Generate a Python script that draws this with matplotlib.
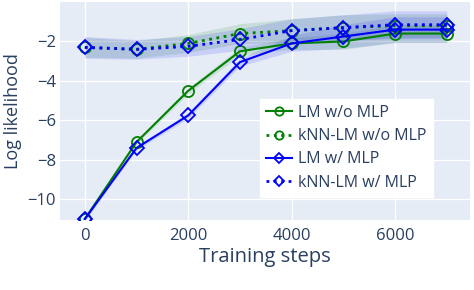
import numpy as np
import matplotlib.pyplot as plt

plt.rcParams['font.family'] = ['Open Sans', 'DejaVu Sans']

steps = [0, 1000, 2000, 3000, 4000, 5000, 6000, 7000]

lm_wo = [-11.0, -7.1, -4.5, -2.5, -2.1, -2.0, -1.6, -1.6]
knn_wo = [-2.3, -2.4, -2.1, -1.6, -1.45, -1.3, -1.2, -1.2]
lm_w = [-11.0, -7.4, -5.75, -3.05, -2.1, -1.75, -1.4, -1.4]
knn_w = [-2.3, -2.4, -2.25, -1.9, -1.45, -1.3, -1.15, -1.15]

# std bands
lm_wo_std = [0.1, 0.1, 0.15, 0.2, 0.3, 0.4, 0.45, 0.45]
knn_wo_std = [0.5, 0.45, 0.45, 0.5, 0.6, 0.65, 0.6, 0.6]
lm_w_std = [0.1, 0.1, 0.15, 0.2, 0.4, 0.6, 0.65, 0.65]
knn_w_std = [0.55, 0.5, 0.5, 0.55, 0.6, 0.65, 0.7, 0.7]

text_c = '#2a3f5f'
green = '#008000'
blue = '#0000ff'

fig = plt.figure(figsize=(4.74, 2.90), dpi=100)
ax = fig.add_axes([60 / 474, 1 - 220 / 290, 410 / 474, 218 / 290])
ax.set_facecolor('#E5ECF6')

series = [
    (lm_wo, lm_wo_std, green, '-', 'o', 'LM w/o MLP'),
    (knn_wo, knn_wo_std, green, ':', 'o', 'kNN-LM w/o MLP'),
    (lm_w, lm_w_std, blue, '-', 'D', 'LM w/ MLP'),
    (knn_w, knn_w_std, blue, ':', 'D', 'kNN-LM w/ MLP'),
]

x = np.array(steps)
for vals, std, c, ls, mk, lab in series:
    v = np.array(vals)
    s = np.array(std)
    ax.fill_between(x, v - s, v + s, color=c, alpha=0.12, lw=0, zorder=1)

for vals, std, c, ls, mk, lab in series:
    ax.plot(x, vals, color=c, ls=ls, lw=2 if ls == ':' else 1.5,
            marker=mk, ms=8 if mk == 'o' else 7, mfc='none', mec=c, mew=1.3,
            label=lab, zorder=3)

ax.set_xlim(-480, 7450)
ax.set_ylim(-11.05, 0)
ax.set_xticks([0, 2000, 4000, 6000])
ax.set_yticks([-10, -8, -6, -4, -2])
ax.grid(color='white', lw=1)
ax.set_axisbelow(True)
for s in ax.spines.values():
    s.set_visible(False)
ax.tick_params(length=0, labelsize=12, colors=text_c)
ax.tick_params(axis='y', pad=3)
ax.tick_params(axis='x', pad=6)

ax.set_xlabel('Training steps', fontsize=14.5, color=text_c, labelpad=2)
ax.set_ylabel('Log likelihood', fontsize=13, color=text_c)
ax.yaxis.set_label_coords(-0.093, 0.5)

leg = ax.legend(loc='lower left', bbox_to_anchor=(200 / 410, 23 / 218),
                fontsize=11.5, frameon=True, fancybox=False, framealpha=1,
                edgecolor='white', handlelength=1.6, handletextpad=0.4,
                borderpad=0.4, labelspacing=0.45, borderaxespad=0,
                markerscale=0.75)
for t in leg.get_texts():
    t.set_color(text_c)

fig.savefig('out.png', dpi=100, facecolor='white')
